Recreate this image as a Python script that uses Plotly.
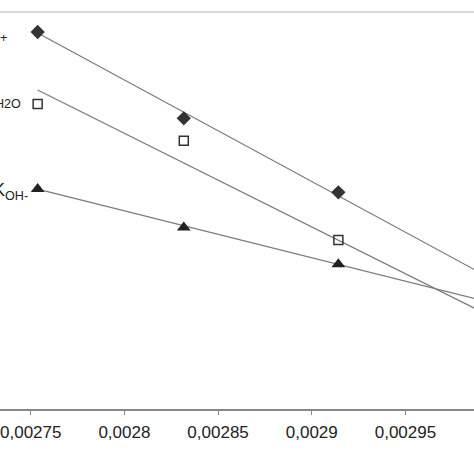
import plotly.graph_objects as go

## data (x = 1/T, y in arbitrary units, y axis lies outside the crop)
inv_temp = [0.0027537, 0.0028317, 0.0029142]

k_h_plus = [94.96, 73.22, 54.58]
k_h2o = [76.83, 67.58, 42.57]
k_oh_minus = [55.42, 45.72, 36.45]

# trend lines, drawn from the first point out past the right edge
fit_x = [0.0027537, 0.0030]
fit_h_plus = [94.71, 31.74]
fit_h2o = [80.35, 22.27]
fit_oh_minus = [55.37, 26.30]

tick_vals = [0.00275, 0.0028, 0.00285, 0.0029, 0.00295]
tick_text = ['0,00275', '0,0028', '0,00285', '0,0029', '0,00295']

labels = ['K<sub>H+</sub>', 'K<sub>H2O</sub>', 'K<sub>OH-</sub>']


fig = go.Figure()

line_style = dict(color='#7a7a7a', width=1.2)
for fit_y in [fit_h_plus, fit_h2o, fit_oh_minus]:
    fig.add_trace(go.Scatter(x=fit_x, y=fit_y, mode='lines', line=line_style,
                             showlegend=False, hoverinfo='skip'))

fig.add_trace(go.Scatter(
    x=inv_temp, y=k_h_plus, mode='markers', name=labels[0],
    marker=dict(symbol='diamond', size=11, color='#333333')
))
fig.add_trace(go.Scatter(
    x=inv_temp, y=k_h2o, mode='markers', name=labels[1],
    marker=dict(symbol='square-open', size=9, color='#333333', line=dict(width=1.5))
))
fig.add_trace(go.Scatter(
    x=inv_temp, y=k_oh_minus, mode='markers', name=labels[2],
    marker=dict(symbol='triangle-up', size=12, color='#222222')
))

# series labels, cut by the left edge like in the source figure
label_pos = [(9, 33), (23, 100), (30, 191)]
for text, (px, py) in zip(labels, label_pos):
    fig.add_annotation(
        text=text, xref='paper', yref='paper',
        x=px / 474, y=(409 - py) / 397,
        xanchor='right', yanchor='middle', showarrow=False,
        font=dict(family='Arial', size=18, color='#222222')
    )

# light frame line on top
fig.add_shape(type='line', xref='paper', yref='paper', x0=0, x1=1, y0=1, y1=1,
              line=dict(color='#cccccc', width=1.5))

fig.update_layout(
    width=474,
    height=474,
    margin=dict(l=0, r=0, t=12, b=65),
    paper_bgcolor='white',
    plot_bgcolor='white',
    showlegend=False,
    xaxis=dict(
        range=[0.0027336, 0.0029866],
        tickvals=tick_vals,
        ticktext=tick_text,
        showgrid=False,
        zeroline=False,
        showline=True,
        linecolor='#888888',
        linewidth=1.5,
        ticks='outside',
        ticklen=4,
        tickcolor='#888888',
        ticklabelstandoff=3,
        tickfont=dict(family='Arial', size=17, color='#222222'),
    ),
    yaxis=dict(range=[0, 100], visible=False),
)

# remove the default page margin so the figure fills the window
fig.write_html("out.html", config={'displayModeBar': False},
               post_script="document.body.style.margin='0';")
